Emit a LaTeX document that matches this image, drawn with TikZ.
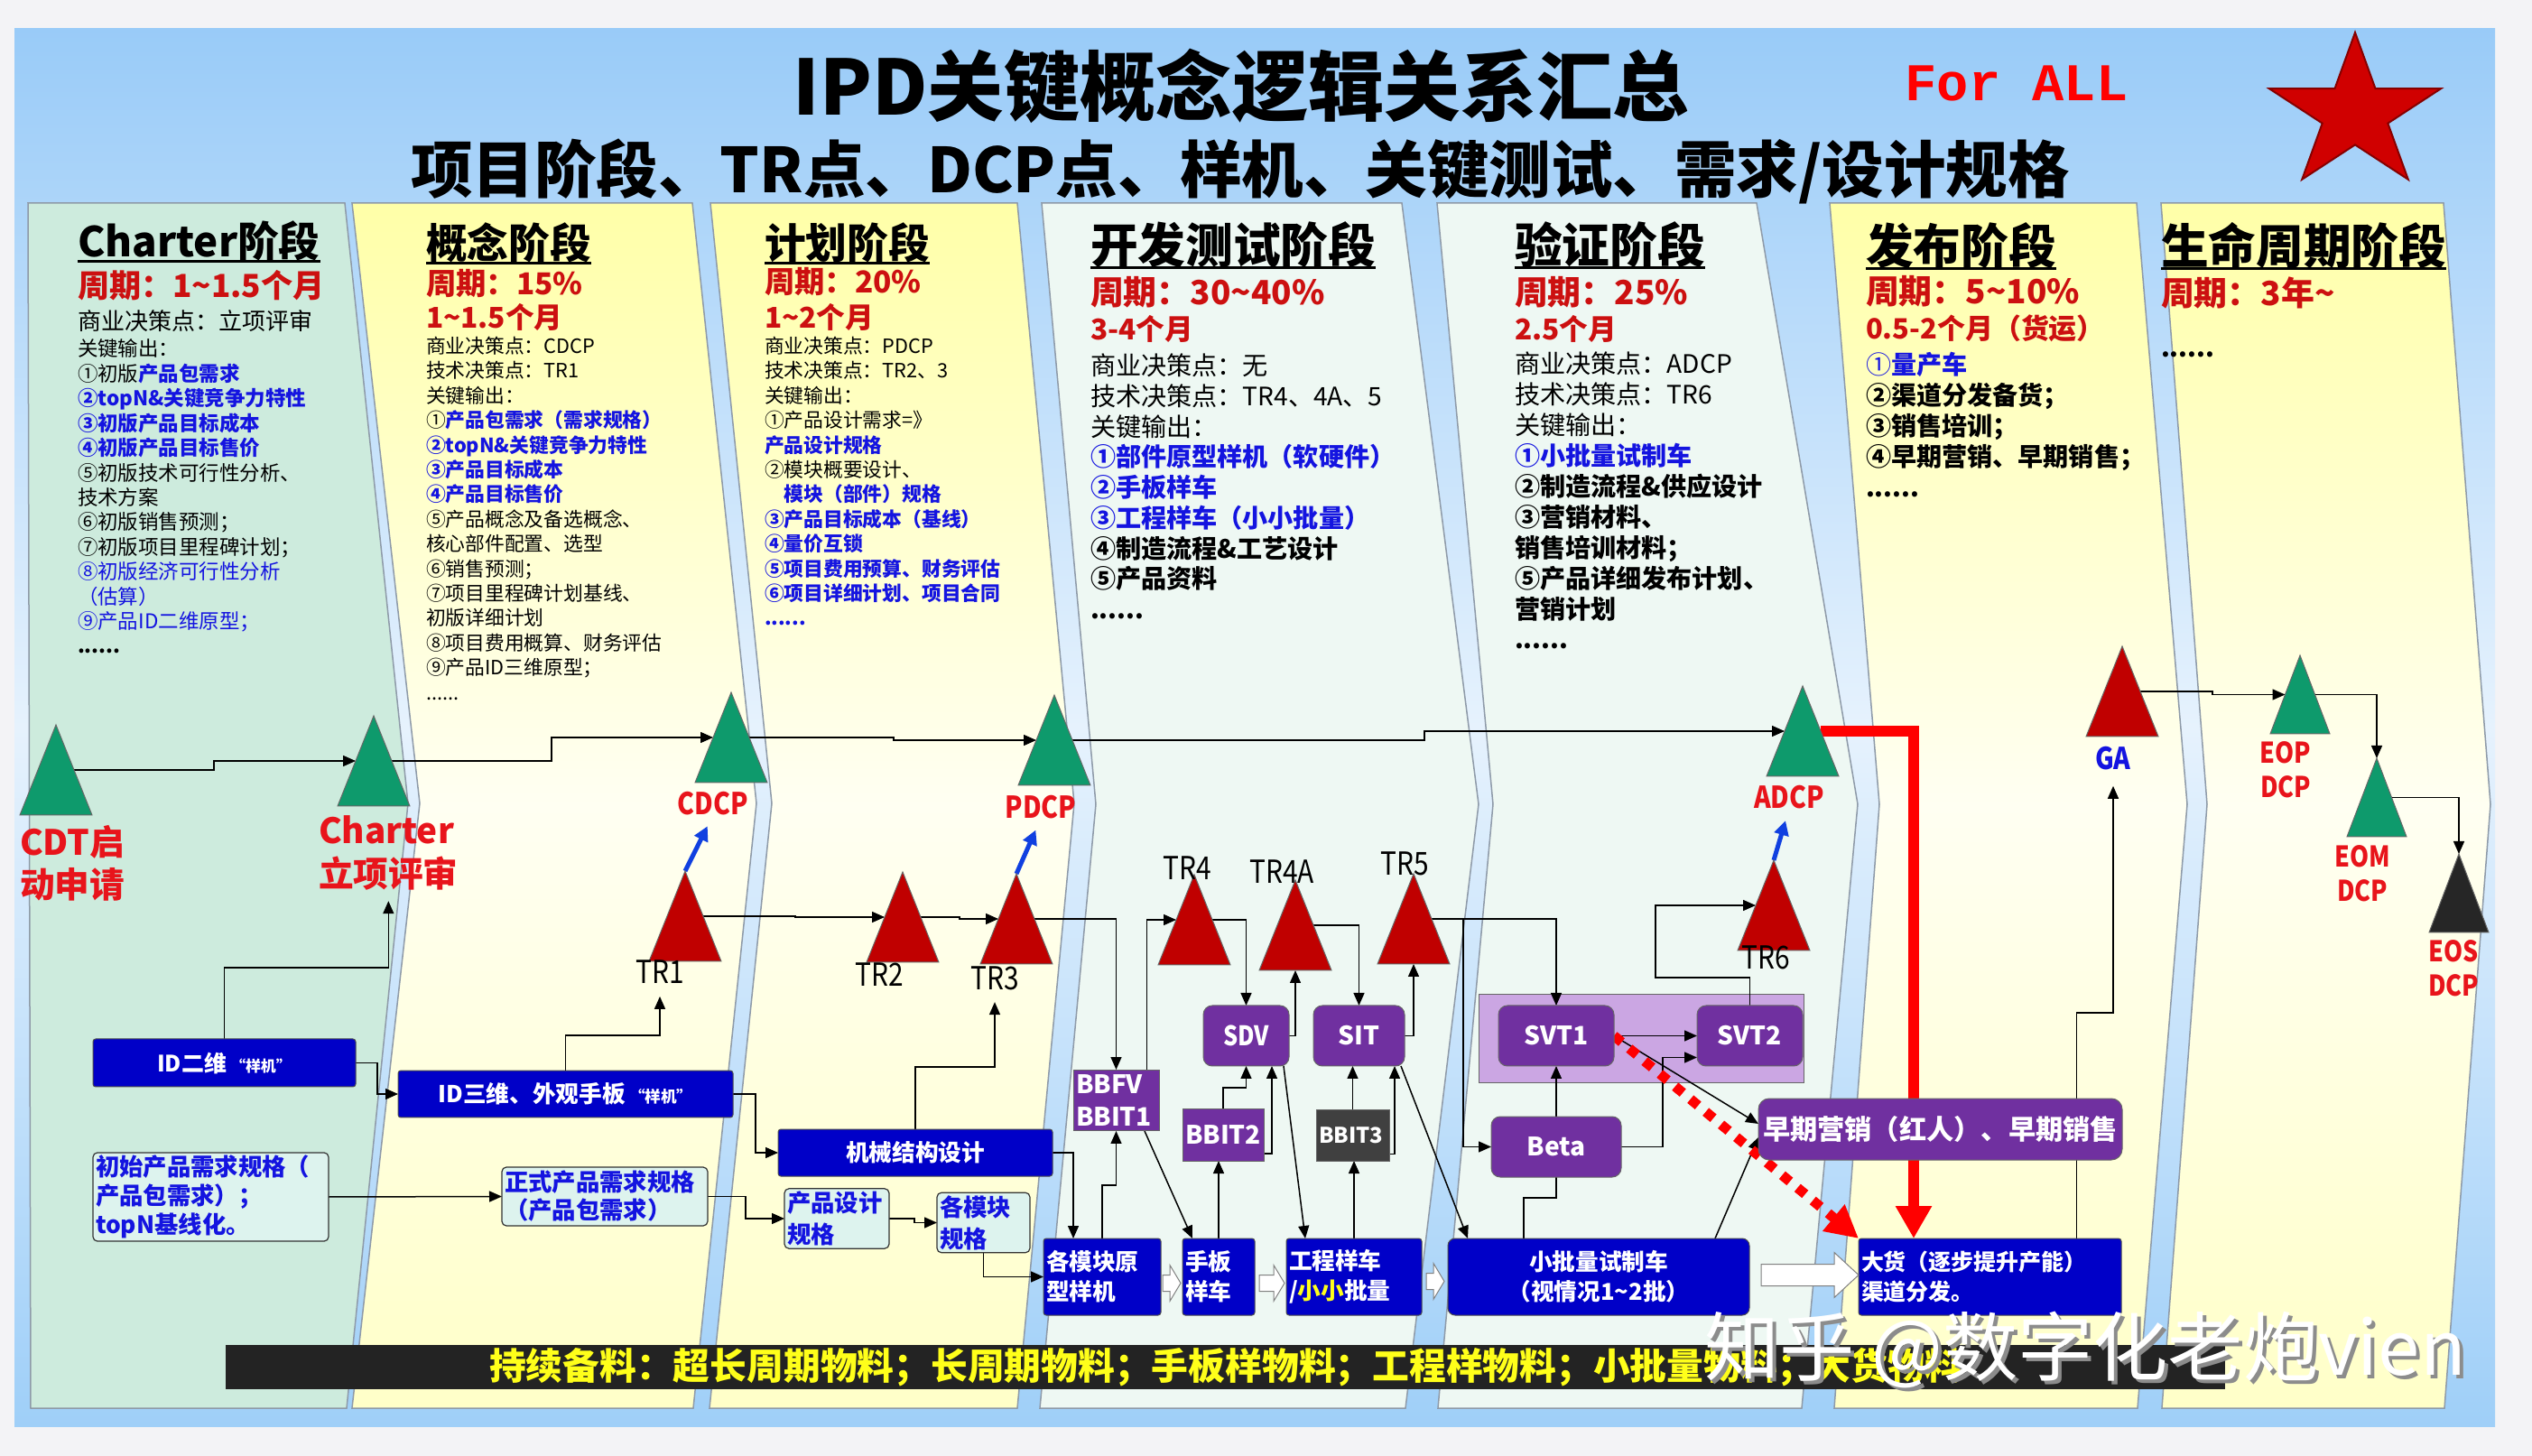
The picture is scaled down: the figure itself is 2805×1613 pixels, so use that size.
\documentclass[tikz,border=0pt]{standalone}
\usepackage{fontspec}
\setmainfont{Noto Sans CJK SC}
\newfontfamily\narrowfont[FakeStretch=0.85]{Noto Sans CJK SC}
\newfontfamily\monofont{Liberation Mono}
\usetikzlibrary{positioning, shapes.geometric, arrows.meta, calc}

\definecolor{pagegray}{HTML}{F3F3F6}
\definecolor{paneltop}{HTML}{99CBF8}
\definecolor{panelmid}{HTML}{E6F2FD}
\definecolor{panelbot}{HTML}{9FCFF8}
\definecolor{colline}{HTML}{8E9AA8}
\definecolor{colmint}{HTML}{CDEBDD}
\definecolor{colpale}{HTML}{EEF8F3}
\definecolor{yeltop}{HTML}{FFFFA8}
\definecolor{yelmid}{HTML}{FFFFF2}
\definecolor{yelbot}{HTML}{FFFFC8}
\definecolor{dcpgreen}{HTML}{0E9A6C}
\definecolor{trred}{HTML}{C00000}
\definecolor{eosblack}{HTML}{262626}
\definecolor{boxblue}{HTML}{0000C8}
\definecolor{boxpurple}{HTML}{7030A0}
\definecolor{svtback}{HTML}{CBA6E3}
\definecolor{bbgray}{HTML}{404040}
\definecolor{reqmint}{HTML}{DDF3EE}
\definecolor{lblred}{HTML}{E8141B}
\definecolor{cycred}{HTML}{CC1010}
\definecolor{txtblue}{HTML}{1414E0}
\definecolor{arrblue}{HTML}{1040E0}
\definecolor{bandblack}{HTML}{232323}
\definecolor{bandyellow}{HTML}{FFFF1A}
\definecolor{starred}{HTML}{D00000}

\newcommand{\fsz}[2]{\fontsize{#1}{#2}\selectfont}
\newcommand{\blueb}[1]{\textcolor{txtblue}{\bfseries #1}}
\newcommand{\bluen}[1]{\textcolor{txtblue}{#1}}

\pgfdeclarelayer{back}
\pgfdeclarelayer{lines}
\pgfsetlayers{back,lines,main}

\begin{document}
\begin{tikzpicture}[x=0.1mm, y=-0.1mm, node distance=1mm,
    every node/.style={inner sep=0pt, outer sep=0pt},
    trig/.style={isosceles triangle, isosceles triangle stretches, shape border rotate=90,
      minimum width=8mm, minimum height=10mm, draw=black!60, line width=0.1mm, anchor=lower side},
    dcp/.style={trig, fill=dcpgreen},
    tr/.style={trig, fill=trred},
    smalltrig/.style={minimum width=6.6mm, minimum height=8.7mm},
    dcplbl/.style={text=lblred, font=\fsz{9.5}{10.5}\narrowfont\bfseries, align=center},
    startlbl/.style={text=lblred, font=\fsz{11}{13.5}\bfseries, align=left},
    trlbl/.style={font=\fsz{10}{12}\narrowfont},
    phead/.style={anchor=west, font=\fsz{13}{15}\bfseries},
    pheadbig/.style={anchor=west, font=\fsz{15}{17}\bfseries},
    pcyc/.style={anchor=west, text=cycred, font=\fsz{10}{12}\bfseries},
    pbody/.style={anchor=north west, align=left},
    bluebox/.style={draw=black!70, line width=0.1mm, fill=boxblue, text=white, rounded corners=0.3mm,
      inner sep=0.3mm, font=\fsz{7.3}{9.4}\bfseries},
    reqbox/.style={draw=black!80, line width=0.12mm, fill=reqmint, text=txtblue, rounded corners=0.5mm,
      inner sep=0.3mm, align=left, font=\fsz{7.5}{9.1}\bfseries},
    purplebox/.style={draw=black!60, line width=0.1mm, fill=boxpurple, text=white, inner sep=0.3mm,
      font=\fsz{8}{10.2}\bfseries},
    roundbox/.style={purplebox, rounded corners=1mm},
    hollow/.style={draw=black!50, line width=0.1mm, fill=white},
    flow/.style={draw=black, line width=0.15mm, -{Triangle[length=1.4mm,width=1.2mm]}},
    bluearr/.style={draw=arrblue, line width=0.5mm, -{Triangle[length=1.6mm,width=1.6mm]}, shorten >=1.4mm},
    mainred/.style={draw=red, line width=1.2mm, -{Triangle[length=3.6mm,width=3.8mm]}},
    dotred/.style={draw=red, line width=1.1mm, dash pattern=on 1.1mm off 1.1mm, -{Triangle[length=3.6mm,width=3.6mm]}}
  ]

  % background and phases
  \begin{pgfonlayer}{back}
    \fill[pagegray] (0,0) rectangle (2805,1613);
    \shade[top color=paneltop, bottom color=panelbot, middle color=panelmid] (16,32) rectangle (2764,1580);
    \filldraw[draw=colline, line width=0.15mm, fill=colmint] (31,225) -- (382,225) -- (452,890) -- (384,1560) -- (34,1560) -- cycle;
    \shadedraw[draw=colline, line width=0.15mm, top color=yeltop, bottom color=yelbot, middle color=yelmid]
      (390,225) -- (767,225) -- (838,890) -- (768,1560) -- (390,1560) -- (465,890) -- cycle;
    \shadedraw[draw=colline, line width=0.15mm, top color=yeltop, bottom color=yelbot, middle color=yelmid]
      (787,225) -- (1127,225) -- (1190,890) -- (1127,1560) -- (786,1560) -- (855,890) -- cycle;
    \filldraw[draw=colline, line width=0.15mm, fill=colpale]
      (1154,225) -- (1553,225) -- (1638,891) -- (1557,1560) -- (1152,1560) -- (1214,891) -- cycle;
    \filldraw[draw=colline, line width=0.15mm, fill=colpale]
      (1592,225) -- (1946,225) -- (2058,891) -- (1996,1560) -- (1593,1560) -- (1654,891) -- cycle;
    \shadedraw[draw=colline, line width=0.15mm, top color=yeltop, bottom color=yelbot, middle color=yelmid]
      (2027,225) -- (2367,225) -- (2423,891) -- (2368,1560) -- (2032,1560) -- (2082,891) -- cycle;
    \shadedraw[draw=colline, line width=0.15mm, top color=yeltop, bottom color=yelbot, middle color=yelmid]
      (2394,225) -- (2707,225) -- (2759,891) -- (2708,1560) -- (2395,1560) -- (2445,891) -- cycle;
    \node[draw=black!60, line width=0.1mm, fill=svtback, minimum width=36mm, minimum height=9.8mm] (svtbox) at (1818,1151) {};
  \end{pgfonlayer}

  % title
  \node[font=\fsz{24}{28}\bfseries] (title) at (1375,95) {IPD关键概念逻辑关系汇总};
  \node[font=\fsz{19.5}{22}\bfseries] (subtitle) at (1374,190) {项目阶段、TR点、DCP点、样机、关键测试、需求/设计规格};
  \node[text=red, font=\fsz{16.7}{18}\monofont\bfseries] (forall) at (2234,92) {For ALL};
  \filldraw[draw=trred!70!black, fill=starred, line width=0.2mm] (2609,36) -- (2631.5,98.2) -- (2704.1,98.2)
    -- (2645.3,136.6) -- (2667.8,198.8) -- (2609,160.4) -- (2550.2,198.8) -- (2572.7,136.6)
    -- (2513.9,98.2) -- (2586.5,98.2) -- cycle;

  % charter phase
  \node[phead] (c1head) at (86,267) {Charter阶段};
  \node[pcyc] (c1cyc) at (86,316) {周期：1\textasciitilde 1.5个月};
  \node[anchor=west, font=\fsz{7.4}{9}] (c1dec) at (86,356) {商业决策点：立项评审};
  \node[pbody, font=\fsz{6.4}{7.8}] (c1out) at (86,376) {关键输出：\\
    ①初版\blueb{产品包需求}\\
    \blueb{②topN\&关键竞争力特性}\\
    \blueb{③初版产品目标成本}\\
    \blueb{④初版产品目标售价}\\
    ⑤初版技术可行性分析、\\
    技术方案\\
    ⑥初版销售预测；\\
    ⑦初版项目里程碑计划；\\
    \bluen{⑧初版经济可行性分析}\\
    \bluen{（估算）}\\
    \bluen{⑨产品ID二维原型；}\\
    \textbf{......}};

  % concept phase
  \node[phead] (c2head) at (472,269) {概念阶段};
  \node[pcyc, font=\fsz{9.5}{11}\bfseries] (c2cyc) at (472,314) {周期：15\%};
  \node[pcyc, font=\fsz{9}{11}\bfseries] (c2mon) at (472,351) {1\textasciitilde 1.5个月};
  \node[pbody, font=\fsz{6.2}{7.8}] (c2out) at (472,373) {商业决策点：CDCP\\
    技术决策点：TR1\\
    关键输出：\\
    ①\blueb{产品包需求（需求规格）}\\
    \blueb{②topN\&关键竞争力特性}\\
    \blueb{③产品目标成本}\\
    \blueb{④产品目标售价}\\
    ⑤产品概念及备选概念、\\
    核心部件配置、选型\\
    ⑥销售预测；\\
    ⑦项目里程碑计划基线、\\
    初版详细计划\\
    ⑧项目费用概算、财务评估\\
    ⑨产品ID三维原型；\\
    ......};

  % plan phase
  \node[phead] (c3head) at (847,269) {计划阶段};
  \node[pcyc, font=\fsz{9.5}{11}\bfseries] (c3cyc) at (847,312) {周期：20\%};
  \node[pcyc, font=\fsz{9}{11}\bfseries] (c3mon) at (847,351) {1\textasciitilde 2个月};
  \node[pbody, font=\fsz{6.2}{7.8}] (c3out) at (847,373) {商业决策点：PDCP\\
    技术决策点：TR2、3\\
    关键输出：\\
    ①产品设计需求=》\\
    \blueb{产品设计规格}\\
    ②模块概要设计、\\
    \hspace*{1em}\blueb{模块（部件）规格}\\
    \blueb{③产品目标成本（基线）}\\
    \blueb{④量价互锁}\\
    \blueb{⑤项目费用预算、财务评估}\\
    \blueb{⑥项目详细计划、项目合同}\\
    \blueb{......}};

  % development phase
  \node[pheadbig] (c4head) at (1208,271) {开发测试阶段};
  \node[pcyc, font=\fsz{10.5}{12}\bfseries] (c4cyc) at (1208,324) {周期：30\textasciitilde 40\%};
  \node[pcyc, font=\fsz{9}{11}\bfseries] (c4mon) at (1208,364) {3-4个月};
  \node[pbody, font=\fsz{8}{9.6}] (c4out) at (1208,392) {商业决策点：无\\
    技术决策点：TR4、4A、5\\
    关键输出：\\
    \blueb{①部件原型样机（软硬件）}\\
    \blueb{②手板样车}\\
    \blueb{③工程样车（小小批量）}\\
    \textbf{④制造流程\&工艺设计}\\
    \textbf{⑤产品资料}\\
    \textbf{......}};

  % verification phase
  \node[pheadbig] (c5head) at (1678,271) {验证阶段};
  \node[pcyc, font=\fsz{10.5}{12}\bfseries] (c5cyc) at (1678,324) {周期：25\%};
  \node[pcyc, font=\fsz{9}{11}\bfseries] (c5mon) at (1678,364) {2.5个月};
  \node[pbody, font=\fsz{8}{9.65}] (c5out) at (1678,390) {商业决策点：ADCP\\
    技术决策点：TR6\\
    关键输出：\\
    \blueb{①小批量试制车}\\
    \textbf{②制造流程\&供应设计}\\
    \textbf{③营销材料、}\\
    \textbf{销售培训材料；}\\
    \textbf{⑤产品详细发布计划、}\\
    \textbf{营销计划}\\
    \textbf{......}};

  % release phase
  \node[pheadbig] (c6head) at (2067,272) {发布阶段};
  \node[pcyc, font=\fsz{10.5}{12}\bfseries] (c6cyc) at (2067,323) {周期：5\textasciitilde 10\%};
  \node[pcyc, font=\fsz{8.8}{11}\bfseries] (c6mon) at (2067,364) {0.5-2个月（货运）};
  \node[pbody, font=\fsz{8}{9.65}] (c6out) at (2067,390) {\bluen{①}\blueb{量产车}\\
    \textbf{②渠道分发备货；}\\
    \textbf{③销售培训；}\\
    \textbf{④早期营销、早期销售；}\\
    \textbf{......}};

  % lifecycle phase
  \node[pheadbig] (c7head) at (2394,272) {生命周期阶段};
  \node[pcyc, font=\fsz{10.5}{12}\bfseries] (c7cyc) at (2394,324) {周期：3年\textasciitilde};
  \node[pbody, font=\fsz{8}{9.6}\bfseries] (c7out) at (2394,390) {......};

  \foreach \h in {c1head,c2head,c3head,c4head,c5head,c6head,c7head}
    \draw[line width=0.3mm] (\h.south west) -- (\h.south east);

  % decision points
  \node[dcp] (cdt) at (62,903) {};
  \node[dcp] (charter) at (414,893) {};
  \node[dcp] (cdcp) at (810,867) {};
  \node[dcp] (pdcp) at (1168,870) {};
  \node[dcp] (adcp) at (1997,860) {};
  \node[tr] (ga) at (2351,816) {};
  \node[dcp, smalltrig] (eop) at (2548,813) {};
  \node[dcp, smalltrig] (eom) at (2633,927) {};
  \node[trig, smalltrig, fill=eosblack] (eos) at (2724,1033) {};

  \node[startlbl, below=1.1mm of cdt.left corner, anchor=north west] (cdtlbl) {CDT启\\动申请};
  \node[startlbl, below left=1.1mm and 2.1mm of charter.left corner, anchor=north west] (chlbl) {Charter\\立项评审};
  \node[dcplbl, below=1mm of cdcp.lower side, xshift=-2mm] (cdcplbl) {CDCP};
  \node[dcplbl, below=1.1mm of pdcp.lower side, xshift=-1.5mm] (pdcplbl) {PDCP};
  \node[dcplbl, below=1mm of adcp.lower side, xshift=-1.5mm] (adcplbl) {ADCP};
  \node[dcplbl, text=txtblue, below=1.1mm of ga.lower side, xshift=-1mm] (galbl) {GA};
  \node[dcplbl, font=\fsz{9}{10.6}\narrowfont\bfseries, below=0.9mm of eop.lower side, xshift=-1.6mm] (eoplbl) {EOP\\DCP};
  \node[dcplbl, font=\fsz{9}{10.6}\narrowfont\bfseries, below=1mm of eom.lower side, xshift=-1.6mm] (eomlbl) {EOM\\DCP};
  \node[dcplbl, font=\fsz{9}{10.6}\narrowfont\bfseries, below=0.9mm of eos.lower side, xshift=-0.6mm] (eoslbl) {EOS\\DCP};

  % technical reviews
  \node[tr] (tr1) at (759,1065) {};
  \node[tr] (tr2) at (1000,1066) {};
  \node[tr] (tr3) at (1126,1068) {};
  \node[tr] (tr4) at (1323,1069) {};
  \node[tr] (tr4a) at (1435,1075) {};
  \node[tr] (tr5) at (1566,1068) {};
  \node[tr] (tr6) at (1965,1053) {};

  \node[trlbl] (tr1lbl) at ($(tr1.lower side)+(-28,12)$) {TR1};
  \node[trlbl] (tr2lbl) at ($(tr2.lower side)+(-26,14)$) {TR2};
  \node[trlbl] (tr3lbl) at ($(tr3.lower side)+(-24,16)$) {TR3};
  \node[trlbl] (tr4lbl) at ($(tr4.apex)+(-8,-7)$) {TR4};
  \node[trlbl] (tr4albl) at ($(tr4a.apex)+(-15,-9)$) {TR4A};
  \node[trlbl] (tr5lbl) at ($(tr5.apex)+(-10,-11)$) {TR5};
  \node[trlbl] (tr6lbl) at ($(tr6.lower side)+(-9,8)$) {TR6};

  % requirement and design boxes
  \node[bluebox, minimum width=29.1mm, minimum height=5.3mm, font=\fsz{7.1}{8}\bfseries] (id2d) at (248.5,1177.5) {ID二维\,{\fsz{4.8}{6}“样机”}};
  \node[bluebox, minimum width=37.1mm, minimum height=5.2mm] (id3d) at (626.5,1212) {ID三维、外观手板\,{\fsz{5}{6}“样机”}};
  \node[bluebox, minimum width=30.4mm, minimum height=5.2mm] (mech) at (1014,1277) {机械结构设计};
  \node[reqbox, text width=25.5mm, minimum height=9.6mm] (req0) at (233.5,1326) {初始产品需求规格（\\产品包需求）；\\topN基线化。};
  \node[reqbox, text width=22.2mm, minimum height=6.5mm, font=\fsz{7.5}{8.8}\bfseries] (req1) at (670,1325.5) {正式产品需求规格\\（产品包需求）};
  \node[reqbox, text width=11mm, minimum height=6.4mm, font=\fsz{7.5}{10}\bfseries] (dspec) at (927,1350) {产品设计\\规格};
  \node[reqbox, text width=9.7mm, minimum height=6.5mm, font=\fsz{7.5}{10}\bfseries] (mspec) at (1089.5,1354.5) {各模块\\规格};

  % prototypes
  \node[bluebox, text width=12.4mm, minimum height=8.5mm, align=left] (proto) at (1221,1414.5) {各模块原\\型样机};
  \node[bluebox, text width=7.4mm, minimum height=8.5mm, align=left] (hand) at (1350,1414.5) {手板\\样车};
  \node[bluebox, text width=14.4mm, minimum height=8.5mm, align=left] (eng) at (1500,1414.5) {工程样车\\/\textcolor{bandyellow}{小小}批量};
  \node[bluebox, text width=32.8mm, minimum height=8.5mm, align=center, rounded corners=0.8mm] (pilot) at (1771,1414.5) {小批量试制车\\（视情况1\textasciitilde 2批）};
  \node[bluebox, text width=28.5mm, minimum height=8.5mm, align=left, font=\fsz{7.1}{9.4}\bfseries] (mass) at (2204.5,1414.5) {大货（逐步提升产能）\\渠道分发。};

  % tests
  \node[purplebox, text width=8.9mm, minimum height=6.8mm, align=left] (bbfv) at (1236.5,1219) {BBFV\\BBIT1};
  \node[purplebox, text width=8.4mm, minimum height=5.8mm, align=left] (bbit2) at (1355,1257) {BBIT2};
  \node[purplebox, fill=bbgray, text width=7.5mm, minimum height=5.7mm, align=left, font=\fsz{6.8}{8}\bfseries] (bbit3) at (1498.5,1257.5) {BBIT3};
  \node[roundbox, minimum width=9.5mm, minimum height=6.7mm, font=\fsz{8.5}{10}\narrowfont\bfseries] (sdv) at (1380.5,1147.5) {SDV};
  \node[roundbox, minimum width=10.1mm, minimum height=6.7mm] (sit) at (1505.5,1147.5) {SIT};
  \node[roundbox, minimum width=12.8mm, minimum height=6.7mm] (svt1) at (1724,1147.5) {SVT1};
  \node[roundbox, minimum width=11.7mm, minimum height=6.7mm] (svt2) at (1938.5,1147.5) {SVT2};
  \node[roundbox, minimum width=14.4mm, minimum height=6.7mm] (beta) at (1724,1270.5) {Beta};
  \node[roundbox, rounded corners=1.2mm, minimum width=40.3mm, minimum height=6.8mm, font=\fsz{8.6}{10}\bfseries] (early) at (2149.5,1251) {早期营销（红人）、早期销售};

  % hollow arrows
  \filldraw[hollow] ($(proto.east)+(2,-2)$) -- ++(8,0) -- ++(0,-11) -- ++(12,20) -- ++(-12,20) -- ++(0,-11) -- ++(-8,0) -- cycle;
  \filldraw[hollow] ($(hand.east)+(5,-2)$) -- ++(16,0) -- ++(0,-11) -- ++(12,20) -- ++(-12,20) -- ++(0,-11) -- ++(-16,0) -- cycle;
  \filldraw[hollow] ($(eng.east)+(5,-4)$) -- ++(8,0) -- ++(0,-11) -- ++(12,20) -- ++(-12,20) -- ++(0,-11) -- ++(-8,0) -- cycle;
  \filldraw[hollow] ($(pilot.east)+(13,-14)$) -- ++(81,0) -- ++(0,-13) -- ++(27,25) -- ++(-27,25) -- ++(0,-13) -- ++(-81,0) -- cycle;

  % material band
  \node[fill=bandblack, minimum width=221.5mm, minimum height=4.9mm, text=bandyellow, font=\fsz{11.6}{13}\bfseries] (band) at (1357.5,1514.5)
    {持续备料：超长周期物料；长周期物料；手板样物料；工程样物料；小批量物料；大货物料};
  \node[text=black!45, font=\fsz{23.7}{26}] (markshadow) at (2314,1499) {知乎 @数字化老炮vien};
  \node[text=white, font=\fsz{23.7}{26}] (mark) at (2310,1495) {知乎 @数字化老炮vien};

  \begin{pgfonlayer}{lines}
    % milestone chain
    \draw[flow] (cdt.right side) -- ++(155,0) |- (charter.left side);
    \draw[flow] (charter.right side) -- ++(177,0) |- (cdcp.left side);
    \draw[flow] (cdcp.right side) -- ++(160,0) |- (pdcp.left side);
    \draw[flow] (pdcp.right side) -- ++(390,0) |- (adcp.left side);
    \draw[flow] (ga.right side) -- ++(80,0) |- (eop.left side);
    \draw[flow] (eop.right side) -| (eom.apex);
    \draw[flow] (eom.right side) -| (eos.apex);
    \draw[mainred] (adcp.right side) -| ($(mass.north west)+(61,0)$);

    % technical review chain
    \draw[flow] (tr1.right side) -- ++(102,0) |- (tr2.left side);
    \draw[flow] (tr2.right side) -- ++(43,0) |- (tr3.left side);
    \draw[flow] (tr3.right side) -| (bbfv.north);
    \draw[flow] ($(bbfv.north)+(34,0)$) |- (tr4.left side);
    \draw[flow] (tr4.right side) -| (sdv.north);
    \draw[flow] (sdv.east) -| (tr4a.lower side);
    \draw[flow] (tr4a.right side) -| (sit.north);
    \draw[flow] (sit.east) -| (tr5.lower side);
    \draw[flow] (tr5.right side) -| (svt1.north);
    \draw[flow] ($(tr5.right side)+(35,0)$) |- (beta.west);
    \draw[flow] (svt1.east) -- (svt2.west);
    \draw[flow] (beta.east) -- ++(46,0) |- ($(svt2.west)+(0,24)$);
    \draw[flow] (svt2.north) -- ++(0,-31) -| ($(tr6.left side)+(-111,0)$) -- (tr6.left side);
    \draw[bluearr] (tr1.apex) -- (cdcplbl.south);
    \draw[bluearr] (tr3.apex) -- (pdcplbl.south);
    \draw[bluearr] (tr6.apex) -- (adcplbl.south);

    % requirement flow
    \draw[flow, shorten >=1.2mm] (id2d.north) -- ++(0,-79) -| (chlbl.south);
    \draw[flow] (id2d.east) -- ++(24,0) |- (id3d.west);
    \draw[flow, shorten >=1.4mm] (id3d.north) -- ++(0,-39) -| (tr1lbl.south);
    \draw[flow] (id3d.east) -- ++(25,0) |- (mech.west);
    \draw[flow, shorten >=1.3mm] (mech.north) -- ++(0,-69) -| (tr3lbl.south);
    \draw[flow] (mech.east) -| ($(proto.north west)+(33,0)$);
    \draw[flow] (req0.east) -- (req1.west);
    \draw[flow] (req1.east) -- ++(42,0) |- (dspec.west);
    \draw[flow] (dspec.east) -- ++(28,0) |- (mspec.west);
    \draw[flow] (mspec.south) |- (proto.west);

    % prototypes and tests
    \draw[flow] (proto.north) -- ++(0,-59) -| (bbfv.south);
    \draw[flow] ($(bbfv.south east)+(-16,0)$) -- ($(hand.north)+(-29,0)$);
    \draw[flow] (hand.north) -- (hand.north |- bbit2.south);
    \draw[flow] (bbit2.north) -- ++(0,-23) -| (sdv.south);
    \draw[flow] ($(bbit2.east)+(0,21)$) -| ($(sdv.south east)+(-19,0)$);
    \draw[flow] ($(sdv.south east)+(-6,0)$) -- ($(eng.north west)+(21,0)$);
    \draw[flow] (eng.north) -- (eng.north |- bbit3.south);
    \draw[flow] (bbit3.north) -- (bbit3.north |- sit.south);
    \draw[flow] ($(bbit3.east)+(0,21)$) -| ($(sit.south east)+(-11,0)$);
    \draw[flow] ($(sit.south east)+(-4,0)$) -- ($(pilot.north west)+(22,0)$);
    \draw[flow] ($(pilot.north west)+(84,0)$) -- ++(0,-45) -| (svt1.south);
    \draw[flow] ($(pilot.north west)+(296,0)$) -- ($(early.west)+(0,9)$);
    \draw[flow] (svt1.east) -- ($(early.west)+(0,-6)$);
    \draw[dotred] (svt1.east) -- (mass.north west);
    \draw[flow, shorten >=1.8mm] ($(mass.north)+(96,0)$) -- ++(0,-250) -| (galbl.south);
  \end{pgfonlayer}

\end{tikzpicture}
\end{document}
